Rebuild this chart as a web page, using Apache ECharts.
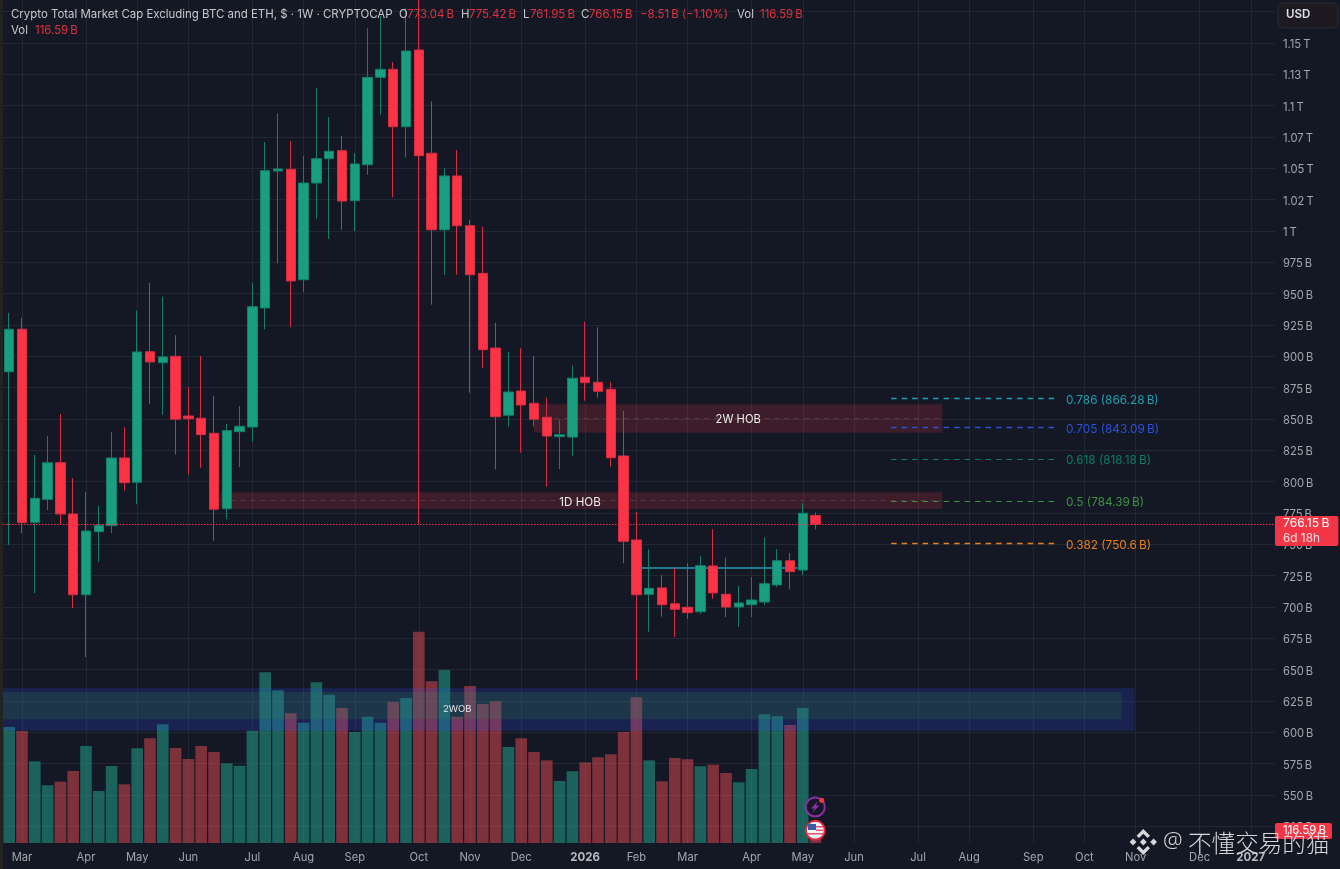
<!DOCTYPE html>
<html><head><meta charset="utf-8">
<style>html,body{margin:0;padding:0;background:#141824}#c{width:1340px;height:869px}</style>
<script src="https://cdn.jsdelivr.net/npm/echarts@6/dist/echarts.min.js"></script>
</head><body><div id="c"></div>
<script>
const opens=[887.7,921.6,767.6,785.9,815.1,774.2,709.8,760.1,764.9,818.9,799.5,903.7,894.9,900,852.4,850.6,838.6,778.4,839.9,843.6,938.6,1047.9,1049.2,961.1,1038.3,1057.7,1064.1,1024.2,1052.9,1122.6,1129,1083.2,1144.4,1062,1001,1043.9,1004.2,966.2,906.6,853,872.3,862.5,851.4,835.9,835.6,883.3,879.3,873.7,820.5,753.5,710.1,715.2,702.6,699.8,696.2,732.7,710.1,700,701.8,704,717.6,736.9,729.5,773.04];
const closes=[921.6,767.3,786.7,815.1,774.2,709.8,760.6,765.2,818.9,799.2,903.5,895.5,899.5,849.8,850.2,837.5,778,840.7,844.2,939.6,1048.1,1049.5,960.1,1038.3,1057.7,1063.6,1023.9,1053.5,1122.6,1129,1083.2,1143.6,1060.1,1001,1043.9,1004.2,965.1,905.3,851.8,871.5,861.2,849.8,836.4,837.5,882.5,879,872.1,819.1,752.4,709.8,714.9,701.8,698.2,695.5,733,711.2,700,703.2,705.6,718.6,736.9,728.2,774.8,766.15];
const lows=[749.5,759,711.2,777.4,766.2,699.2,660.1,736.1,759,792.8,781.9,862,853.4,821.5,805.6,811.1,752.9,770,811.5,831.9,921.6,974.2,923.2,951.1,1009.8,993.6,1000.8,1000,1044.9,1092.8,1026.9,1058.8,766.2,941.2,964.9,964.9,871,890.5,809.9,843.9,823.1,843.9,796,810.1,820.7,864.6,867,811.9,734.9,641.8,680.3,692.3,675.8,690.4,694.4,706.4,692,684,692,701.6,716,714.1,725.5,761.95];
const highs=[934.6,930.6,821.3,836.4,854,802.9,791.8,780.8,839.6,843.4,936.4,958.5,947.6,916.8,875.3,900.3,868.6,846,860.4,958.3,1071,1093.9,1071.8,1060.1,1114.1,1091,1076,1062,1161.7,1171.5,1134.8,1177.9,1200,1103.5,1050.5,1064.6,1008.8,1003.4,926.8,903.7,906.4,900.3,867,849.2,892.5,927.6,923.2,879.5,856.4,775.8,746,725.5,731.4,734.9,740.7,762,739.3,716.8,723.9,755.6,746.3,743.1,782.7,775.42];
const vols=[1127.5,1088.6,793.8,560.5,596.2,699.8,942.8,505.4,748.4,570.2,920.2,1017.4,1153.4,923.4,816.5,942.8,884.5,774.4,751.7,1091.9,1658.9,1483.9,1260.4,1169.6,1561.7,1441.8,1312.2,1078.9,1228,1169.6,1370.5,1409.4,2054.2,1571.4,1681.6,1228,1526,1351.1,1377,933.1,1017.4,884.5,803.5,602.6,696.6,784.1,832.7,861.8,1078.9,1415.9,803.5,599.4,826.2,813.2,745.2,761.4,680.4,589.7,719.3,1250.6,1231.2,1147,1312.2,116.59];
const yTicks=[525,550,575,600,625,650,675,700,725,750,775,800,825,850,875,900,925,950,975,1000,1025,1050,1075,1100,1125,1150,1175];
const yLabels=['525','550','575','600','625','650','675','700','725','750','775','800','825','850','875','900','925','950','975','1','1.02','1.05','1.07','1.1','1.13','1.15','1.18'];
const xTicks=[1,6,10,14,19,23,27,32,36,40,45,49,53,58,62,66,71,75,80,84,88,93,97];
const xLabels=['Mar','Apr','May','Jun','Jul','Aug','Sep','Oct','Nov','Dec','2026','Feb','Mar','Apr','May','Jun','Jul','Aug','Sep','Oct','Nov','Dec','2027'];
const fibRatios=['0.786','0.705','0.618','0.5','0.382'];
const fibPrices=[866.28,843.09,818.18,784.39,750.6];
const fibLabels=['866.28','843.09','818.18','784.39','750.6'];
const fibColors=['#1f9fb3','#2a52dc','#0c7c66','#3c9142','#e8801c'];
const fibFrom=68.9, fibTo=81.7;
const hob1d=[778.2,791.5], hob1dX=[16.5,72.9], hob1dMid=784.85;
const hob2w=[839.1,861.7], hob2wX=[41,72.9], hob2wMid=850.4;
const wobOuter=[601.3,635.1], wobOuterX=[-0.49,87.9];
const wobInner=[610.4,632.2], wobInnerX=[-0.49,86.9];
const wobDash=[618.9,621.6], wobLabel=[35,618.8];
const neckline=731.3, necklineX=[49.3,61.6];
const lastPrice=766.15, lastVol=116.59;
const xMin=-0.484375, xMax=98.890625;
const yMin=511.7, yMax=1184.3, volMax=8194;
const FONT='Inter, "Liberation Sans", sans-serif';
const UP='#1a9e80', DOWN='#fb3346', UPW='#12806c', DOWNW='#d92c40';
const TS='\u2009';

const chart=echarts.init(document.getElementById('c'),null,{renderer:'canvas'});
const candle=opens.map((o,i)=>[i,o,closes[i],lows[i],highs[i]]);
const volData=vols.map((v,i)=>({value:[i,v],itemStyle:{color:closes[i]>=opens[i]?'rgba(34,171,148,0.5)':'rgba(240,80,85,0.48)'}}));
function fmtY(v){const i=yTicks.indexOf(v);if(i<0)return '';return yLabels[i]+TS+(v>=1000?'T':'B');}

const hdr=[
 {x:11,y:15,t:'Crypto Total Market Cap Excluding BTC and ETH, $ · 1W · CRYPTOCAP',c:'#c6c8cd'},
 {x:399,y:15,t:'O',c:'#c6c8cd'},{x:407,y:15,t:'773.04'+TS+'B',c:'#e0303f'},
 {x:461,y:15,t:'H',c:'#c6c8cd'},{x:469,y:15,t:'775.42'+TS+'B',c:'#e0303f'},
 {x:523,y:15,t:'L',c:'#c6c8cd'},{x:530,y:15,t:'761.95'+TS+'B',c:'#e0303f'},
 {x:581,y:15,t:'C',c:'#c6c8cd'},{x:589,y:15,t:'766.15'+TS+'B',c:'#e0303f'},
 {x:640,y:15,t:'\u22128.51'+TS+'B (\u22121.10%)',c:'#e0303f'},
 {x:737,y:15,t:'Vol',c:'#c6c8cd'},{x:760,y:15,t:'116.59'+TS+'B',c:'#e0303f'},
 {x:11,y:31,t:'Vol',c:'#c6c8cd'},{x:35,y:31,t:'116.59'+TS+'B',c:'#e0303f'}
].map(h=>({type:'text',z:50,x:h.x,y:h.y,style:{text:h.t,fill:h.c,font:'11.45px '+FONT,textVerticalAlign:'middle',textBaseline:'middle'},silent:true}));

function dia(cx,cy,r,fill){return {type:'polygon',z:60,silent:true,shape:{points:[[cx,cy-r],[cx+r,cy],[cx,cy+r],[cx-r,cy]]},style:{fill}};}
const wm='#d6d7da';
const graphics=[
 {type:'rect',z:40,silent:true,shape:{x:0,y:0,width:3,height:869},style:{fill:'#232323'}},
 {type:'rect',z:55,silent:true,shape:{x:1278,y:3,width:60,height:25,r:5},style:{fill:'#1d1a22',stroke:'#2a2a30',lineWidth:1}},
 {type:'text',z:56,silent:true,x:1286,y:15,style:{text:'USD',fill:'#dfe0e3',font:'600 11.5px '+FONT,textBaseline:'middle',textVerticalAlign:'middle'}},
 ...hdr,
 {type:'circle',z:45,silent:true,shape:{cx:815.3,cy:807,r:9.5},style:{fill:'#141824',stroke:'#8b2fa3',lineWidth:2}},
 {type:'polygon',z:46,silent:true,shape:{points:[[818,801],[811,808.5],[814.5,808.5],[812,813],[819.5,805.5],[816,805.5]]},style:{fill:'#8b2fa3'}},
 {type:'circle',z:46,silent:true,shape:{cx:821.7,cy:800.3,r:2.6},style:{fill:'#f23645'}},
 {type:'circle',z:45,silent:true,shape:{cx:815.3,cy:830.3,r:9.5},style:{fill:'#f4f4f6',stroke:'#e8243a',lineWidth:2}},
 {type:'rect',z:46,silent:true,shape:{x:808,y:824,width:8,height:6},style:{fill:'#3b5aa8'}},
 {type:'rect',z:46,silent:true,shape:{x:816,y:826,width:7,height:1.5},style:{fill:'#e8546a'}},
 {type:'rect',z:46,silent:true,shape:{x:816,y:829.5,width:7.5,height:1.5},style:{fill:'#e8546a'}},
 {type:'rect',z:46,silent:true,shape:{x:807,y:833,width:16.5,height:1.5},style:{fill:'#e8546a'}},
 dia(1133,842,3.4,wm),dia(1153.6,842,3.4,wm),dia(1143.3,842,3.4,wm),
 {type:'polygon',z:60,silent:true,shape:{points:[[1143.3,829],[1150,835.7],[1147.6,838],[1143.3,833.7],[1139,838],[1136.6,835.7]]},style:{fill:wm}},
 {type:'polygon',z:60,silent:true,shape:{points:[[1143.3,855],[1150,848.3],[1147.6,846],[1143.3,850.3],[1139,846],[1136.6,848.3]]},style:{fill:wm}},
 {type:'text',z:60,silent:true,x:1163,y:842,style:{text:'@',fill:wm,font:'300 22px "Noto Sans", sans-serif',textBaseline:'middle',textVerticalAlign:'middle'}},
 {type:'text',z:60,silent:true,x:1188,y:843,style:{text:'不懂交易的猫',fill:wm,font:'300 23.6px "Noto Sans CJK SC", sans-serif',textBaseline:'middle',textVerticalAlign:'middle'}}
];

const option={
 animation:false,backgroundColor:'#141824',
 textStyle:{fontFamily:FONT},
 grid:{left:3,right:65,top:0,bottom:26,containLabel:false},
 graphic:graphics,
 xAxis:{type:'value',min:xMin,max:xMax,position:'bottom',
  axisLine:{show:false},axisTick:{show:false,customValues:xTicks},
  splitLine:{show:true,lineStyle:{color:'#232733',width:1}},
  axisLabel:{customValues:xTicks,margin:9,fontSize:11.2,color:'#a3a6ad',
   hideOverlap:false,showMinLabel:true,showMaxLabel:true,
   formatter:v=>{const s=xLabels[xTicks.indexOf(v)]||'';return /^\d{4}$/.test(s)?'{b|'+s+'}':s;},
   rich:{b:{fontWeight:700,fontSize:11.5,color:'#b8bac0',fontFamily:FONT}}}},
 yAxis:[
  {type:'value',min:yMin,max:yMax,position:'right',
   axisLine:{show:false},axisTick:{show:false,customValues:yTicks},
   splitLine:{show:true,lineStyle:{color:'#232733',width:1}},
   axisLabel:{customValues:yTicks,margin:8,fontSize:11.2,color:'#a3a6ad',verticalAlign:'top',lineHeight:3,formatter:fmtY}},
  {type:'value',min:0,max:volMax,show:false,splitLine:{show:false}}
 ],
 series:[
  {name:'Vol',type:'bar',yAxisIndex:1,z:1,barWidth:11.6,data:volData,silent:true,
   markLine:{silent:true,symbol:['none','none'],z:30,lineStyle:{color:'rgba(0,0,0,0)',width:0},
    label:{show:true,position:'end',distance:0,formatter:()=>lastVol.toFixed(2)+TS+'B',color:'#fff',fontSize:11.5,backgroundColor:'#f23645',padding:[3,6,1,8],borderRadius:2,fontFamily:FONT},
    data:[{yAxis:lastVol}]}},
  {name:'zones',type:'line',z:2,data:[],silent:true,
   markArea:{silent:true,z:2,data:[
    [{xAxis:wobOuterX[0],yAxis:wobOuter[1],itemStyle:{color:'rgba(50,80,255,0.2)',opacity:1}},{xAxis:wobOuterX[1],yAxis:wobOuter[0]}],
    [{xAxis:wobInnerX[0],yAxis:wobInner[1],itemStyle:{color:'rgba(60,170,50,0.14)',opacity:1}},{xAxis:wobInnerX[1],yAxis:wobInner[0]}],
    [{xAxis:hob1dX[0],yAxis:hob1d[1],itemStyle:{color:'rgba(242,54,69,0.18)',opacity:1}},{xAxis:hob1dX[1],yAxis:hob1d[0]}],
    [{xAxis:hob2wX[0],yAxis:hob2w[1],itemStyle:{color:'rgba(242,54,69,0.18)',opacity:1}},{xAxis:hob2wX[1],yAxis:hob2w[0]}]
   ]},
   markLine:{silent:true,z:2,symbol:['none','none'],lineStyle:{color:'rgba(190,190,190,0.18)',type:[5,5],width:1},label:{show:false},data:[
    [{coord:[hob1dX[0],hob1dMid]},{coord:[hob1dX[1],hob1dMid]}],
    [{coord:[hob2wX[0],hob2wMid]},{coord:[hob2wX[1],hob2wMid]}],
    [{coord:[wobOuterX[0],wobDash[0]],lineStyle:{color:'rgba(190,190,190,0.4)',type:[5,5],width:1}},{coord:[wobOuterX[1],wobDash[0]]}],
    [{coord:[wobOuterX[0],wobDash[1]],lineStyle:{color:'rgba(190,190,190,0.4)',type:[5,5],width:1}},{coord:[wobOuterX[1],wobDash[1]]}],
    [{coord:[necklineX[0],neckline],lineStyle:{color:'#1f9db4',type:'solid',width:1.6}},{coord:[necklineX[1],neckline]}]
   ]}},
  {name:'price',type:'candlestick',z:3,barWidth:10,silent:true,clip:true,
   encode:{x:0,y:[1,2,3,4]},data:candle,
   itemStyle:{color:UP,color0:DOWN,borderColor:UPW,borderColor0:DOWNW,borderWidth:1}},
  {name:'annot',type:'line',z:4,data:[],silent:true,
   markLine:{silent:true,z:4,symbol:['none','none'],data:[
    ...fibPrices.map((p,i)=>[
     {coord:[fibFrom,p],lineStyle:{color:fibColors[i],type:[5.5,5],width:i==0||i==1||i==4?1.3:1},
      label:{show:true,position:'end',distance:11,offset:[0,1.4],color:fibColors[i],fontSize:11.8,fontFamily:FONT,formatter:()=>fibRatios[i]+' ('+fibLabels[i]+TS+'B)'}},
     {coord:[fibTo,p]}])
   ]},
   markPoint:{silent:true,z:6,symbol:'circle',symbolSize:0,data:[
    {coord:[(hob1dX[0]+hob1dX[1])/2-0.1,hob1dMid],label:{show:true,position:'inside',offset:[0,1.5],formatter:'1D HOB',color:'#eceded',fontSize:11.6,fontFamily:FONT}},
    {coord:[(hob2wX[0]+hob2wX[1])/2,hob2wMid],label:{show:true,position:'inside',offset:[0,1.5],formatter:'2W HOB',color:'#eceded',fontSize:11.2,fontFamily:FONT}},
    {coord:wobLabel,label:{show:true,position:'inside',formatter:'2WOB',color:'#e4e5e6',fontSize:9.5,fontFamily:FONT}}
   ]}},
  {name:'last',type:'line',z:5,data:[],silent:true,
   markLine:{silent:true,z:30,symbol:['none','none'],
    lineStyle:{color:'#f23645',type:[1.5,1.5],width:1},
    label:{show:true,position:'end',distance:0,offset:[0,7],formatter:()=>'{a|'+lastPrice.toFixed(2)+TS+'B}\n{b|6d 18h}',backgroundColor:'#f23645',padding:[0,9,0,8],borderRadius:2,
     rich:{a:{color:'#fff',fontSize:12.2,lineHeight:15,fontFamily:FONT},b:{color:'#fde0e3',fontSize:11.8,lineHeight:15,fontFamily:FONT}}},
    data:[{yAxis:lastPrice}]}}
 ]
};
chart.setOption(option);
</script></body></html>
